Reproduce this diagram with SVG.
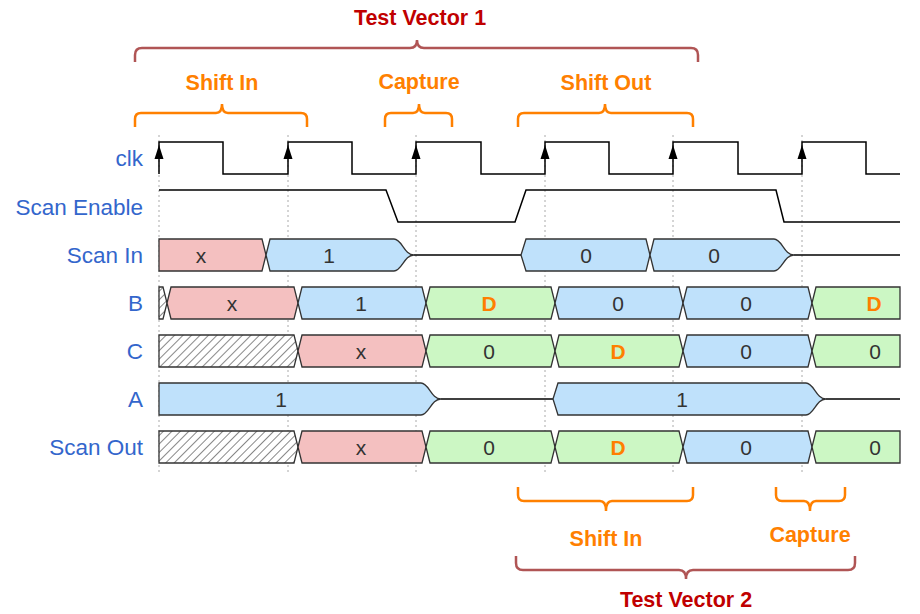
<svg xmlns="http://www.w3.org/2000/svg" width="920" height="614" viewBox="0 0 920 614">
<defs>
<pattern id="hatch" width="6" height="6" patternUnits="userSpaceOnUse" patternTransform="rotate(45)">
<rect width="6" height="6" fill="#fff"/><line x1="0" y1="0" x2="0" y2="6" stroke="#888" stroke-width="2"/>
</pattern>
<style>
.lbl{font-family:"Liberation Sans",Arial,sans-serif;font-size:22.5px;fill:#3366cc;text-anchor:end}
.v{font-family:"Liberation Sans",Arial,sans-serif;font-size:21px;fill:#333;text-anchor:middle}
.d{font-family:"Liberation Sans",Arial,sans-serif;font-size:21px;font-weight:bold;fill:#ff7f00;text-anchor:middle}
.w{fill:none;stroke:#000;stroke-width:1.5}
.box{stroke:#333;stroke-width:1.3}
.r{fill:#f4c0c0}.b{fill:#bfe1fb}.g{fill:#ccf7c4}.h{fill:url(#hatch)}
.grid{stroke:#aaa;stroke-width:1;stroke-dasharray:2,3}
.ob{fill:none;stroke:#ff8000;stroke-width:2.5}
.tb{fill:none;stroke:#b05555;stroke-width:2.5}
.ot{font-family:"Liberation Sans",Arial,sans-serif;font-size:21.5px;font-weight:bold;fill:#ff8000;text-anchor:middle}
.tt{font-family:"Liberation Sans",Arial,sans-serif;font-size:21.5px;font-weight:bold;fill:#c00000;text-anchor:middle}
</style>
</defs>
<g id="grid">
<line class="grid" x1="159" y1="135" x2="159" y2="472"/>
<line class="grid" x1="288" y1="135" x2="288" y2="472"/>
<line class="grid" x1="416" y1="135" x2="416" y2="472"/>
<line class="grid" x1="545" y1="135" x2="545" y2="472"/>
<line class="grid" x1="673" y1="135" x2="673" y2="472"/>
<line class="grid" x1="802" y1="135" x2="802" y2="472"/>
</g>
<g id="labels">
<text class="lbl" x="143" y="166">clk</text>
<text class="lbl" x="143" y="215">Scan Enable</text>
<text class="lbl" x="143" y="263">Scan In</text>
<text class="lbl" x="143" y="311">B</text>
<text class="lbl" x="143" y="359">C</text>
<text class="lbl" x="143" y="407">A</text>
<text class="lbl" x="143" y="455">Scan Out</text>
</g>
<g id="clk">
<path class="w" d="M159,174 V142 H223 V174 H288 V142 H352 V174 H416 V142 H481 V174 H545 V142 H609 V174 H673 V142 H738 V174 H802 V142 H866 V174 H900"/>
<g fill="#000">
<polygon points="159,145 154.5,159 163.5,159"/><polygon points="288,145 283.5,159 292.5,159"/><polygon points="416,145 411.5,159 420.5,159"/>
<polygon points="545,145 540.5,159 549.5,159"/><polygon points="673,145 668.5,159 677.5,159"/><polygon points="802,145 797.5,159 806.5,159"/>
</g>
</g>
<g id="scan-enable">
<path class="w" d="M159,190 H386 L398,222 H515 L526,190 H776 L784,222 H900"/>
</g>
<g id="scan-in">
<path class="box r" d="M159,239 H262 L266,255 L262,271 H159 Z"/>
<path class="box b" d="M266,255 L270,239 H394 C402,239 404,255 414,255 C404,255 402,271 394,271 H270 Z"/>
<line class="w" x1="414" y1="255" x2="521" y2="255"/>
<path class="box b" d="M521,255 L526,239 H646 L650,255 L646,271 H526 Z"/>
<path class="box b" d="M650,255 L654,239 H774 C782,239 784,255 794,255 C784,255 782,271 774,271 H654 Z"/>
<line class="w" x1="794" y1="255" x2="900" y2="255"/>
<text class="v" x="201" y="263">x</text><text class="v" x="329" y="263">1</text><text class="v" x="586" y="263">0</text><text class="v" x="714" y="263">0</text>
</g>
<g id="B">
<path class="box h" d="M159,287 H163 L167,303 L163,319 H159 Z"/>
<path class="box r" d="M167,303 L171,287 H294 L298,303 L294,319 H171 Z"/>
<path class="box b" d="M298,303 L302,287 H422 L426,303 L422,319 H302 Z"/>
<path class="box g" d="M426,303 L430,287 H551 L555,303 L551,319 H430 Z"/>
<path class="box b" d="M555,303 L559,287 H679 L683,303 L679,319 H559 Z"/>
<path class="box b" d="M683,303 L687,287 H808 L812,303 L808,319 H687 Z"/>
<path class="box g" d="M812,303 L816,287 H900 V319 H816 Z"/>
<text class="v" x="232" y="311">x</text><text class="v" x="361" y="311">1</text><text class="d" x="489" y="311">D</text><text class="v" x="618" y="311">0</text><text class="v" x="746" y="311">0</text><text class="d" x="874" y="311">D</text>
</g>
<g id="C">
<path class="box h" d="M159,335 H294 L298,351 L294,367 H159 Z"/>
<path class="box r" d="M298,351 L302,335 H422 L426,351 L422,367 H302 Z"/>
<path class="box g" d="M426,351 L430,335 H551 L555,351 L551,367 H430 Z"/>
<path class="box g" d="M555,351 L559,335 H679 L683,351 L679,367 H559 Z"/>
<path class="box b" d="M683,351 L687,335 H808 L812,351 L808,367 H687 Z"/>
<path class="box g" d="M812,351 L816,335 H900 V367 H816 Z"/>
<text class="v" x="361" y="359">x</text><text class="v" x="489" y="359">0</text><text class="d" x="618" y="359">D</text><text class="v" x="746" y="359">0</text><text class="v" x="875" y="359">0</text>
</g>
<g id="A">
<path class="box b" d="M159,383 H421 C429,383 431,399 441,399 C431,399 429,415 421,415 H159 Z"/>
<line class="w" x1="441" y1="399" x2="553" y2="399"/>
<path class="box b" d="M553,399 L558,383 H806 C814,383 816,399 826,399 C816,399 814,415 806,415 H558 Z"/>
<line class="w" x1="826" y1="399" x2="900" y2="399"/>
<text class="v" x="281" y="407">1</text><text class="v" x="682" y="407">1</text>
</g>
<g id="scan-out">
<path class="box h" d="M159,431 H294 L298,447 L294,463 H159 Z"/>
<path class="box r" d="M298,447 L302,431 H422 L426,447 L422,463 H302 Z"/>
<path class="box g" d="M426,447 L430,431 H551 L555,447 L551,463 H430 Z"/>
<path class="box g" d="M555,447 L559,431 H679 L683,447 L679,463 H559 Z"/>
<path class="box b" d="M683,447 L687,431 H808 L812,447 L808,463 H687 Z"/>
<path class="box g" d="M812,447 L816,431 H900 V463 H816 Z"/>
<text class="v" x="361" y="455">x</text><text class="v" x="489" y="455">0</text><text class="d" x="618" y="455">D</text><text class="v" x="746" y="455">0</text><text class="v" x="875" y="455">0</text>
</g>
<g id="braces">
<path class="tb" d="M135,62 V55 Q135,48 142,48 H410 Q417,48 417,40 Q417,48 424,48 H691 Q698,48 698,55 V62"/>
<text class="tt" x="420" y="25">Test Vector 1</text>
<path class="ob" d="M135,127 V119 Q135,113 141,113 H216 Q222,113 222,104 Q222,113 228,113 H301 Q307,113 307,119 V127"/>
<text class="ot" x="222" y="90">Shift In</text>
<path class="ob" d="M385,127 V119 Q385,113 391,113 H413 Q419,113 419,104 Q419,113 425,113 H446 Q452,113 452,119 V127"/>
<text class="ot" x="419" y="89">Capture</text>
<path class="ob" d="M518,127 V119 Q518,113 524,113 H599 Q605,113 605,104 Q605,113 611,113 H687 Q693,113 693,119 V127"/>
<text class="ot" x="606" y="90">Shift Out</text>
<path class="ob" d="M518,487 V495 Q518,501 524,501 H600 Q606,501 606,511 Q606,501 612,501 H687 Q693,501 693,495 V487"/>
<text class="ot" x="606" y="546">Shift In</text>
<path class="ob" d="M776,487 V495 Q776,501 782,501 H804 Q810,501 810,511 Q810,501 816,501 H839 Q845,501 845,495 V487"/>
<text class="ot" x="810" y="542">Capture</text>
<path class="tb" d="M516,556 V563 Q516,570 523,570 H679 Q686,570 686,579 Q686,570 693,570 H848 Q855,570 855,563 V556"/>
<text class="tt" x="686" y="607">Test Vector 2</text>
</g>
</svg>
